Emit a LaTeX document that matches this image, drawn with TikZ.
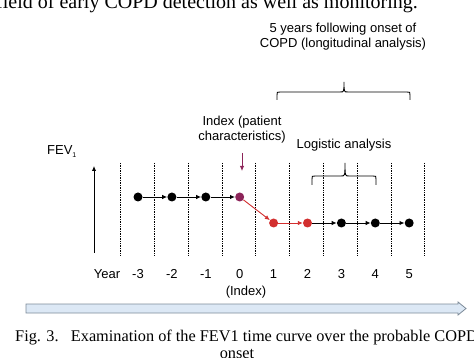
\documentclass[tikz,border=0pt]{standalone}
\usepackage{fontspec}
\setmainfont{Liberation Sans}
\newfontfamily\serif{Liberation Serif}
\usetikzlibrary{arrows.meta}
\definecolor{idxpurple}{HTML}{8C2459}
\definecolor{onsetred}{HTML}{D22F2F}
\definecolor{timefill}{HTML}{DCE8F5}
\definecolor{timeline}{HTML}{7D8B99}

\tikzset{
  lbl/.style={font=\fontsize{13}{15}\selectfont, inner sep=0pt, align=center},
  dot/.style={circle, fill=black, inner sep=0pt, minimum size=9pt},
  tick/.style={-{Latex[length=5pt,width=4.5pt]}, line width=0.9pt},
}

\begin{document}
\begin{tikzpicture}[x=1pt, y=-1pt]
			\useasboundingbox (0,0) rectangle (474,358);
			\clip (0,0) rectangle (474,358);

			% text of the page round the figure
			\node[anchor=base east, inner sep=0pt, font=\serif\fontsize{20}{22}\selectfont] (bodytext) at (418,8.5) {field of early COPD detection as well as monitoring.};
			\node[anchor=base west, inner sep=0pt, font=\serif\fontsize{16.3}{18}\selectfont] (caption) at (15,341) {Fig. 3.\hspace{0.75em}Examination of the FEV1 time curve over the probable COPD};
			\node[anchor=base, inner sep=0pt, font=\serif\fontsize{16.3}{18}\selectfont] (caption2) at (237,358) {onset};

			% labels
			\node[lbl] (longit) at (343,37) {5 years following onset of\\COPD (longitudinal analysis)};
			\node[lbl] (idx) at (242,130) {Index (patient\\characteristics)};
			\node[lbl] (logit) at (344,145) {Logistic analysis};
			\node[lbl, anchor=west] (fev) at (47,152) {FEV\raisebox{-3pt}{\fontsize{7}{8}\selectfont 1}};

			% braces
			\draw[line width=0.9pt](277,100)--(277,95) .. controls (277,92) .. (280,92)--(340,92) .. controls (344,92) .. (344,82) .. controls (344,92) .. (348,92)--(407,92) .. controls (410,92) .. (410,95)--(410,100);
			\draw[line width=0.9pt](312,185)--(312,179) .. controls (312,176) .. (315,176)--(341,176) .. controls (345,176) .. (345,163) .. controls (345,176) .. (349,176)--(373,176) .. controls (376,176) .. (376,179)--(376,185);

			% FEV axis
			\coordinate (axbot) at (94,253);
			\coordinate (axtop) at (94,166);
			\draw[tick] (axbot) -- (axtop);

			% year grid
			\foreach \i in {0,...,9}
				\draw[densely dotted, line width=0.7pt] (120.5+33.8*\i,163) -- (120.5+33.8*\i,255);

			\node[lbl] (year) at (107,274) {Year};
			\foreach \k [count=\n] in {-3,...,5}
				\node[lbl] (y\n) at (138+33.9*\n-33.9,274) {\k};
			\node[lbl] (idxlbl) at (246,292) {(Index)};

			% FEV1 curve
			\foreach \n in {1,2,3}
				\node[dot] (d\n) at (138+33.9*\n-33.9,197) {};
			\node[dot, fill=idxpurple] (d4) at (239.7,197) {};
			\node[dot, fill=onsetred] (d5) at (273.6,223) {};
			\node[dot, fill=onsetred] (d6) at (307.5,223) {};
			\foreach \n in {7,8,9}
				\node[dot] (d\n) at (138+33.9*\n-33.9,223) {};

			\draw[tick] (d1) -- (d2);
			\draw[tick] (d2) -- (d3);
			\draw[tick] (d3) -- (d4);
			\draw[tick, onsetred] (d4) -- (d5);
			\draw[tick, onsetred] (d5) -- (d6);
			\draw[tick] (d6) -- (d7);
			\draw[tick] (d7) -- (d8);
			\draw[tick] (d8) -- (d9);

			% index arrow
			\coordinate (idxtip) at (242,171);
			\draw[tick, idxpurple, shorten <=9pt] (idx.south) -- (idxtip);

			% time arrow
			\draw[fill=timefill, draw=timeline, line width=0.8pt](26,304)--(458,304)--(458,302)--(466,308.5)--(458,315)--(458,313)--(26,313)--cycle;
		\end{tikzpicture}
\end{document}
